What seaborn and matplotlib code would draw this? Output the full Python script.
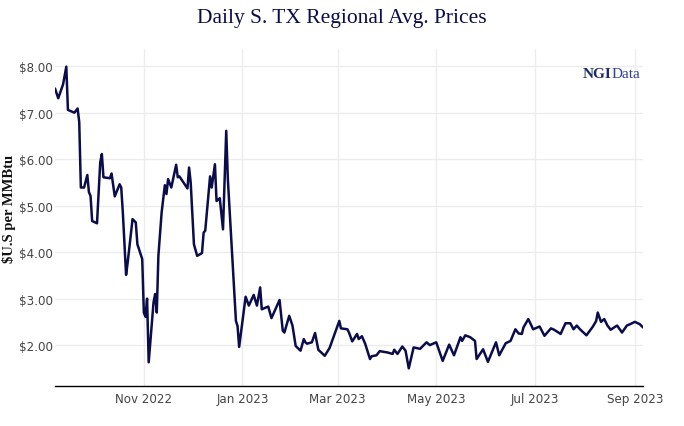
import pandas as pd
import numpy as np
import matplotlib
matplotlib.use("Agg")
import matplotlib.pyplot as plt
import matplotlib.dates as mdates
import seaborn as sns

# =========================
# DATA
# =========================
dates = [
    "2022-09-07", "2022-09-09", "2022-09-12", "2022-09-14", "2022-09-15", "2022-09-19",
    "2022-09-21", "2022-09-22", "2022-09-23", "2022-09-25", "2022-09-27", "2022-09-28",
    "2022-09-29", "2022-09-30", "2022-10-03", "2022-10-05", "2022-10-06", "2022-10-07",
    "2022-10-11", "2022-10-12", "2022-10-14", "2022-10-17", "2022-10-18", "2022-10-19",
    "2022-10-21", "2022-10-22", "2022-10-25", "2022-10-27", "2022-10-28", "2022-10-31",
    "2022-11-01", "2022-11-02", "2022-11-03", "2022-11-04", "2022-11-07", "2022-11-08",
    "2022-11-09", "2022-11-10", "2022-11-12", "2022-11-14", "2022-11-15", "2022-11-16",
    "2022-11-18", "2022-11-21", "2022-11-22", "2022-11-23", "2022-11-28", "2022-11-29",
    "2022-11-30", "2022-12-02", "2022-12-04", "2022-12-07", "2022-12-08", "2022-12-09",
    "2022-12-12", "2022-12-13", "2022-12-15", "2022-12-16", "2022-12-18", "2022-12-20",
    "2022-12-22", "2022-12-23", "2022-12-28", "2022-12-29", "2022-12-30",
    "2023-01-03", "2023-01-05", "2023-01-08", "2023-01-10", "2023-01-12", "2023-01-13",
    "2023-01-17", "2023-01-19", "2023-01-24", "2023-01-26", "2023-01-27", "2023-01-30",
    "2023-02-01", "2023-02-03", "2023-02-06", "2023-02-08", "2023-02-09", "2023-02-10",
    "2023-02-13", "2023-02-15", "2023-02-17", "2023-02-21", "2023-02-24",
    "2023-03-02", "2023-03-03", "2023-03-07", "2023-03-08", "2023-03-10", "2023-03-13",
    "2023-03-14", "2023-03-16", "2023-03-18", "2023-03-21", "2023-03-22", "2023-03-25",
    "2023-03-27", "2023-04-01", "2023-04-04", "2023-04-05", "2023-04-07", "2023-04-10",
    "2023-04-12", "2023-04-14", "2023-04-17", "2023-04-21", "2023-04-25", "2023-04-27",
    "2023-05-01", "2023-05-05", "2023-05-09", "2023-05-12", "2023-05-16", "2023-05-17",
    "2023-05-19", "2023-05-22", "2023-05-25", "2023-05-26", "2023-05-30",
    "2023-06-02", "2023-06-07", "2023-06-09", "2023-06-13", "2023-06-16", "2023-06-19",
    "2023-06-21", "2023-06-23", "2023-06-24", "2023-06-27", "2023-06-30",
    "2023-07-04", "2023-07-07", "2023-07-11", "2023-07-13", "2023-07-17", "2023-07-20",
    "2023-07-23", "2023-07-25", "2023-07-27", "2023-07-29",
    "2023-08-02", "2023-08-06", "2023-08-08", "2023-08-09", "2023-08-11", "2023-08-13",
    "2023-08-15", "2023-08-17", "2023-08-20", "2023-08-21", "2023-08-24", "2023-08-27",
    "2023-08-29", "2023-09-01", "2023-09-04", "2023-09-06",
]

prices = [
    7.52, 7.31, 7.61, 7.99, 7.06, 7.00,
    7.09, 6.80, 5.39, 5.39, 5.66, 5.29,
    5.21, 4.67, 4.62, 5.93, 6.11, 5.61,
    5.59, 5.69, 5.20, 5.46, 5.39, 4.85,
    3.51, 3.78, 4.71, 4.64, 4.17, 3.85,
    2.70, 2.61, 3.00, 1.63, 2.92, 3.10,
    2.70, 3.92, 4.85, 5.44, 5.25, 5.57,
    5.39, 5.88, 5.61, 5.63, 5.37, 5.82,
    5.50, 4.17, 3.92, 3.98, 4.42, 4.46,
    5.63, 5.39, 5.89, 5.10, 5.16, 4.49,
    6.61, 5.57, 2.52, 2.41, 1.96,
    3.04, 2.85, 3.08, 2.85, 3.24, 2.77,
    2.83, 2.58, 2.97, 2.31, 2.27, 2.63,
    2.42, 1.98, 1.88, 2.13, 2.06, 2.03,
    2.06, 2.26, 1.90, 1.77, 1.94,
    2.52, 2.36, 2.34, 2.27, 2.08, 2.24,
    2.13, 2.19, 2.03, 1.70, 1.76, 1.78,
    1.87, 1.84, 1.81, 1.90, 1.81, 1.97,
    1.88, 1.50, 1.95, 1.92, 2.06, 2.00,
    2.06, 1.66, 2.01, 1.78, 2.17, 2.09,
    2.21, 2.17, 2.09, 1.70, 1.91,
    1.64, 2.06, 1.78, 2.04, 2.09, 2.34,
    2.25, 2.24, 2.38, 2.56, 2.34,
    2.40, 2.20, 2.36, 2.33, 2.24, 2.47,
    2.47, 2.34, 2.42, 2.34,
    2.21, 2.40, 2.52, 2.70, 2.50, 2.56,
    2.42, 2.33, 2.40, 2.42, 2.27, 2.42,
    2.45, 2.50, 2.45, 2.38,
]

y_ticks = [2, 3, 4, 5, 6, 7, 8]
y_tick_labels = ["$2.00", "$3.00", "$4.00", "$5.00", "$6.00", "$7.00", "$8.00"]

df = pd.DataFrame({"date": pd.to_datetime(dates), "price": prices})

# =========================
# STYLE
# =========================
sns.set_theme(style="white")
plt.rcParams["font.family"] = ["DejaVu Sans"]

NAVY = "#0b0c4a"
GRID = "#ececec"

fig = plt.figure(figsize=(6.84, 4.27), dpi=100)
ax = fig.add_axes([55 / 684, 1 - 387 / 427, (643 - 55) / 684, (387 - 50) / 427])

sns.lineplot(data=df, x="date", y="price", ax=ax, color=NAVY, linewidth=1.8)

ax.set_xlim(df["date"].min(), df["date"].max())
ax.set_ylim(1.12, 8.37)

ax.set_yticks(y_ticks)
ax.set_yticklabels(y_tick_labels)
ax.xaxis.set_major_locator(mdates.MonthLocator(bymonth=[1, 3, 5, 7, 9, 11]))
ax.xaxis.set_major_formatter(mdates.DateFormatter("%b %Y"))

ax.grid(True, color=GRID, linewidth=1.0)
ax.set_axisbelow(True)
ax.tick_params(axis="both", length=0, labelsize=8.6, labelcolor="#444444")
ax.tick_params(axis="y", pad=1.5)
ax.tick_params(axis="x", pad=4)

for side in ["top", "right", "left"]:
    ax.spines[side].set_visible(False)
ax.spines["bottom"].set_color("#000000")
ax.spines["bottom"].set_linewidth(1.0)

ax.set_xlabel("")
ax.set_ylabel("")

# y axis title placed in figure pixels so it clears the tick labels
fig.text(9 / 684, 1 - 209 / 427, r"\$U.S per MMBtu", rotation=90, ha="center", va="center",
         family="Liberation Serif", fontweight="bold", fontsize=10.5, color="#111111")

fig.text(0.5, 1 - 18 / 427, "Daily S. TX Regional Avg. Prices", ha="center", va="center",
         family="Liberation Serif", fontsize=15.5, color=NAVY)

# NGI Data logo
ax.text(0.947, 0.926, "NGI", transform=ax.transAxes, ha="right", va="center",
        family="Liberation Serif", fontweight="bold", fontsize=11, color="#1c2b63")
ax.text(0.947, 0.926, "Data", transform=ax.transAxes, ha="left", va="center",
        family="Liberation Serif", fontsize=11, color="#2e3f8f")

fig.savefig("out.png", dpi=100)
